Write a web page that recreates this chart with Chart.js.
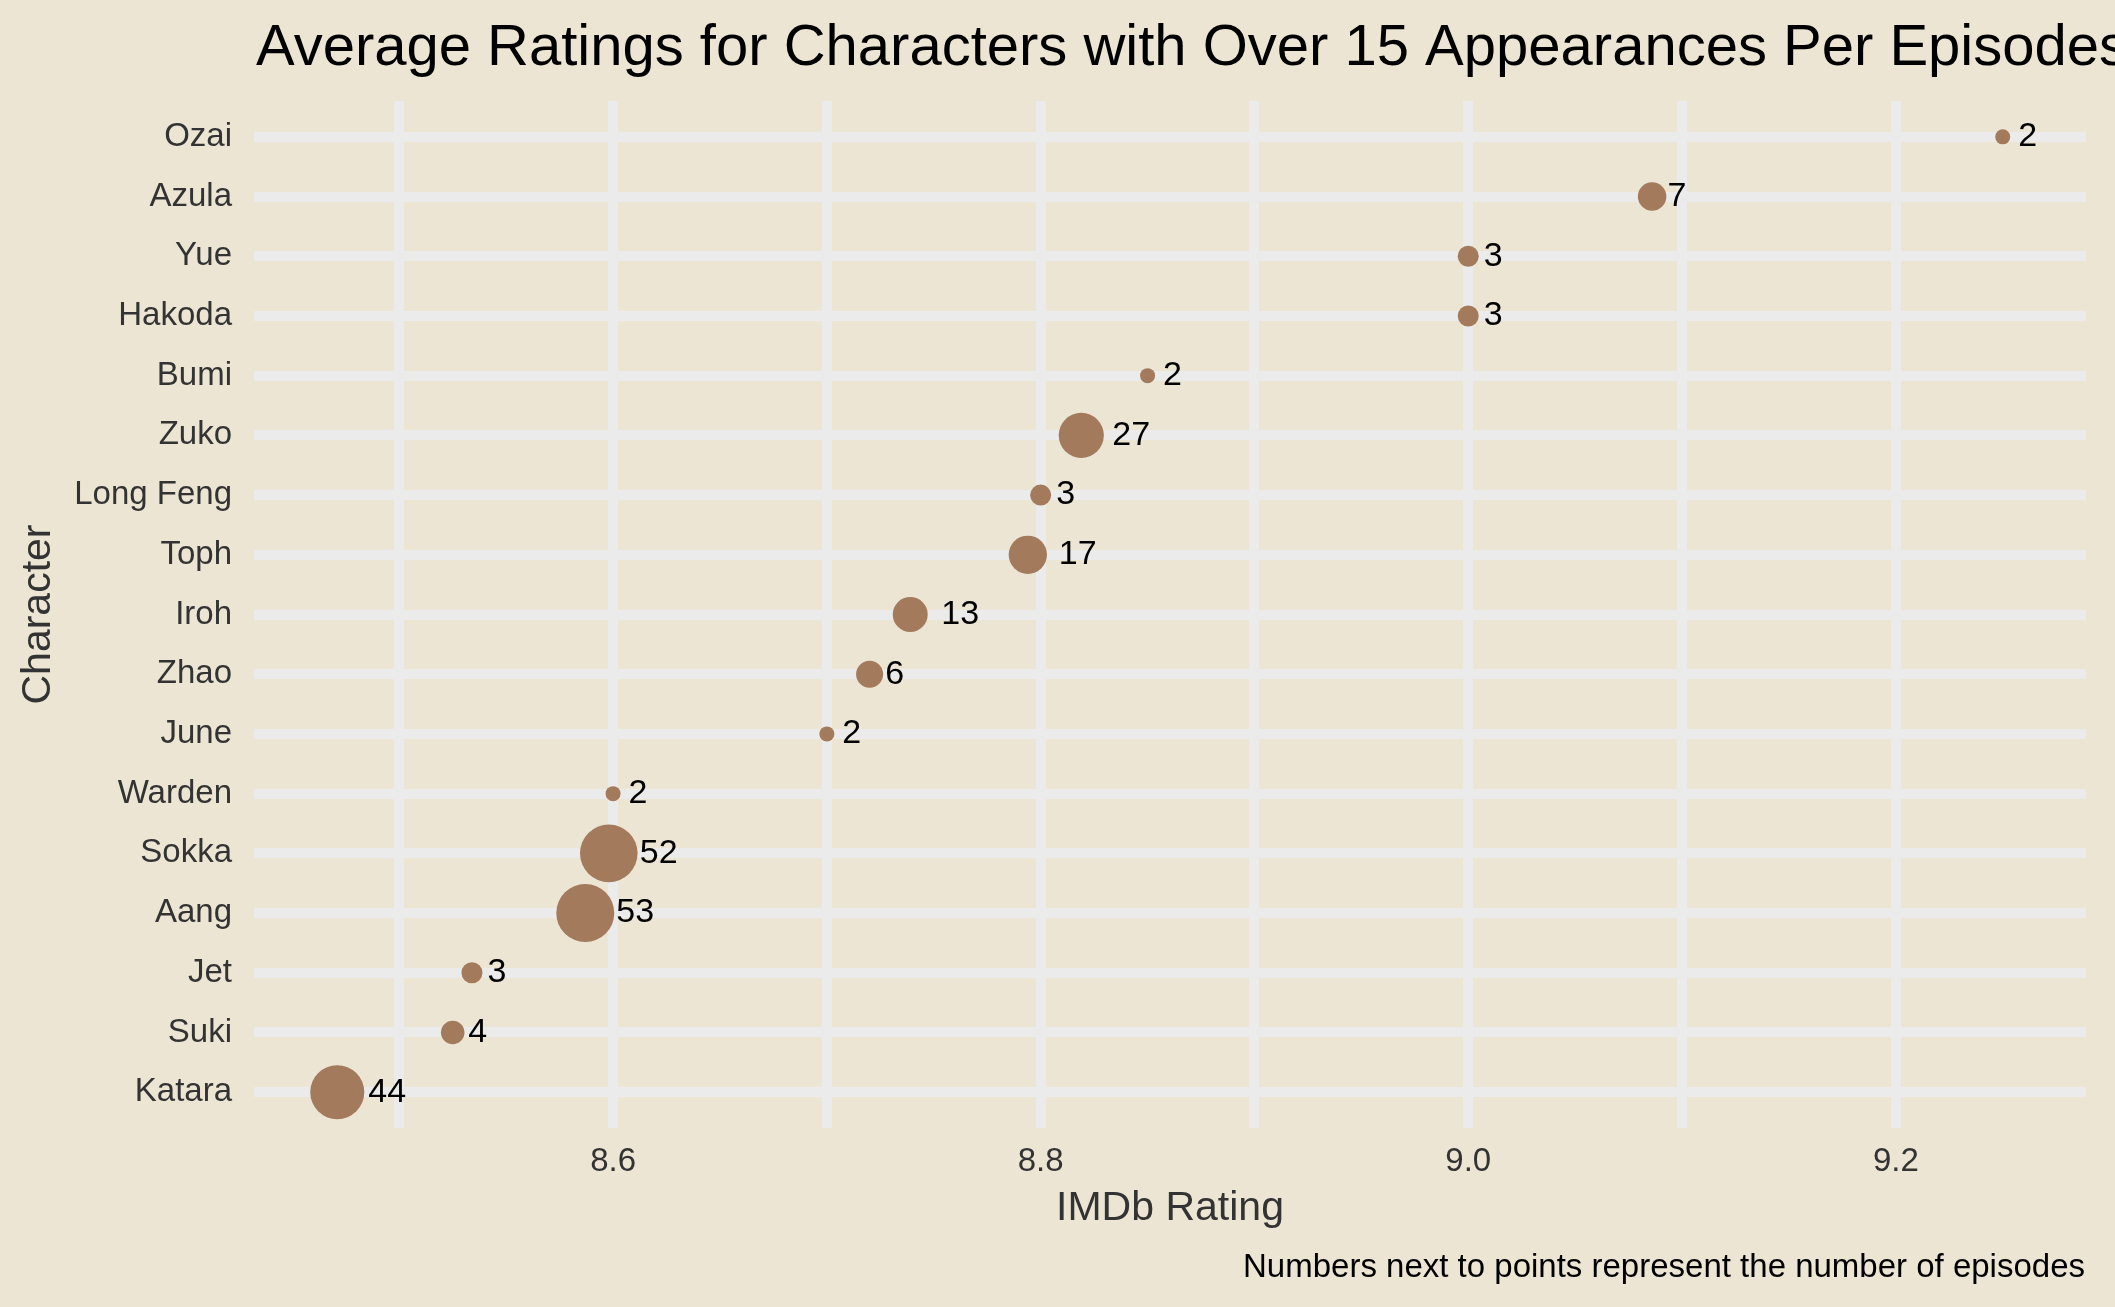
<!DOCTYPE html>
<html lang="en">
<head>
    <meta charset="UTF-8">
    <title>Average Ratings for Characters</title>
    <script src="https://cdn.jsdelivr.net/npm/chart.js"></script>
    <style>
        html, body {
            margin: 0;
            padding: 0;
            background: #ECE5D4;
        }
        #grafico-container {
            width: 2115px;
            height: 1307px;
        }
    </style>
</head>
<body>
    <div id="grafico-container">
        <canvas id="grafica"></canvas>
    </div>

    <script>
        // bottom to top, as on the y axis
        const characters = ['Katara', 'Suki', 'Jet', 'Aang', 'Sokka', 'Warden', 'June', 'Zhao', 'Iroh',
            'Toph', 'Long Feng', 'Zuko', 'Bumi', 'Hakoda', 'Yue', 'Azula', 'Ozai'];
        const ratings = [8.471, 8.525, 8.534, 8.587, 8.598, 8.600, 8.700, 8.720, 8.739,
            8.794, 8.800, 8.819, 8.850, 9.000, 9.000, 9.086, 9.250];
        const episodes = [44, 4, 3, 53, 52, 2, 2, 6, 13, 17, 3, 27, 2, 3, 3, 7, 2];

        const xTicks = [8.5, 8.6, 8.7, 8.8, 8.9, 9.0, 9.1, 9.2];
        const xTickLabels = ['', '8.6', '', '8.8', '', '9.0', '', '9.2'];

        const fuente = '"Liberation Sans", Arial, Helvetica, sans-serif';
        const fondo = '#ECE5D4';

        // size scale: area proportional to the number of episodes
        const minEp = Math.min(...episodes);
        const maxEp = Math.max(...episodes);
        function radio(n) {
            return 7.5 + 21.5 * Math.sqrt((n - minEp) / (maxEp - minEp));
        }

        const lo = Math.min(...ratings);
        const hi = Math.max(...ratings);
        const margen = (hi - lo) * 0.05;

        const textos = {
            id: 'textos',
            beforeDraw(chart) {
                const ctx = chart.ctx;
                ctx.save();
                ctx.fillStyle = fondo;
                ctx.fillRect(0, 0, chart.width, chart.height);
                ctx.restore();
            },
            afterDatasetsDraw(chart) {
                const ctx = chart.ctx;
                const meta = chart.getDatasetMeta(0);
                ctx.save();
                ctx.font = '34px ' + fuente;
                ctx.fillStyle = '#000000';
                ctx.textAlign = 'left';
                ctx.textBaseline = 'middle';
                meta.data.forEach((pt, i) => {
                    const txt = String(episodes[i]);
                    const w = ctx.measureText(txt).width;
                    ctx.fillText(txt, pt.x + 0.82 * w, pt.y);
                });
                ctx.restore();
            },
            afterDraw(chart) {
                const ctx = chart.ctx;
                const area = chart.chartArea;
                ctx.save();
                ctx.fillStyle = '#000000';
                ctx.textBaseline = 'alphabetic';
                ctx.font = '58px ' + fuente;
                ctx.textAlign = 'left';
                ctx.fillText('Average Ratings for Characters with Over 15 Appearances Per Episodes', area.left + 2, 65);
                ctx.font = '33px ' + fuente;
                ctx.textAlign = 'right';
                ctx.fillText('Numbers next to points represent the number of episodes', area.right - 1, 1277);
                ctx.restore();
            }
        };

        const ctx = document.getElementById('grafica').getContext('2d');
        const grafica = new Chart(ctx, {
            type: 'scatter',
            data: {
                datasets: [{
                    label: 'Characters',
                    data: characters.map((c, i) => ({ x: ratings[i], y: i })),
                    backgroundColor: '#A47A5C',
                    borderWidth: 0,
                    pointRadius: c => radio(episodes[c.dataIndex]),
                    pointHoverRadius: c => radio(episodes[c.dataIndex])
                }]
            },
            options: {
                responsive: true,
                maintainAspectRatio: false,
                animation: false,
                events: [],
                layout: {
                    padding: { top: 101, right: 23, bottom: 0, left: 0 }
                },
                scales: {
                    x: {
                        type: 'linear',
                        min: lo - margen,
                        max: hi + margen,
                        afterBuildTicks: s => { s.ticks = xTicks.map(v => ({ value: v })); },
                        afterFit: s => { s.height = 179; },
                        grid: { color: '#EBEBEB', lineWidth: 10, drawTicks: false },
                        border: { display: false },
                        ticks: {
                            autoSkip: false,
                            maxRotation: 0,
                            padding: 14,
                            color: '#333333',
                            font: { family: fuente, size: 33 },
                            callback: (v, i) => xTickLabels[i]
                        },
                        title: {
                            display: true,
                            text: 'IMDb Rating',
                            color: '#333333',
                            font: { family: fuente, size: 41 },
                            padding: { top: 0, bottom: 74 }
                        }
                    },
                    y: {
                        type: 'linear',
                        min: -0.6,
                        max: characters.length - 1 + 0.6,
                        afterBuildTicks: s => { s.ticks = characters.map((c, i) => ({ value: i })); },
                        afterFit: s => { s.width = 254; },
                        grid: { color: '#EBEBEB', lineWidth: 10, drawTicks: false },
                        border: { display: false },
                        ticks: {
                            autoSkip: false,
                            padding: 22,
                            color: '#333333',
                            font: { family: fuente, size: 33 },
                            callback: v => characters[v]
                        },
                        title: {
                            display: true,
                            text: 'Character',
                            color: '#333333',
                            font: { family: fuente, size: 41 },
                            padding: { top: 14, bottom: 0 }
                        }
                    }
                },
                plugins: {
                    legend: { display: false },
                    tooltip: { enabled: false }
                }
            },
            plugins: [textos]
        });
    </script>
</body>
</html>
